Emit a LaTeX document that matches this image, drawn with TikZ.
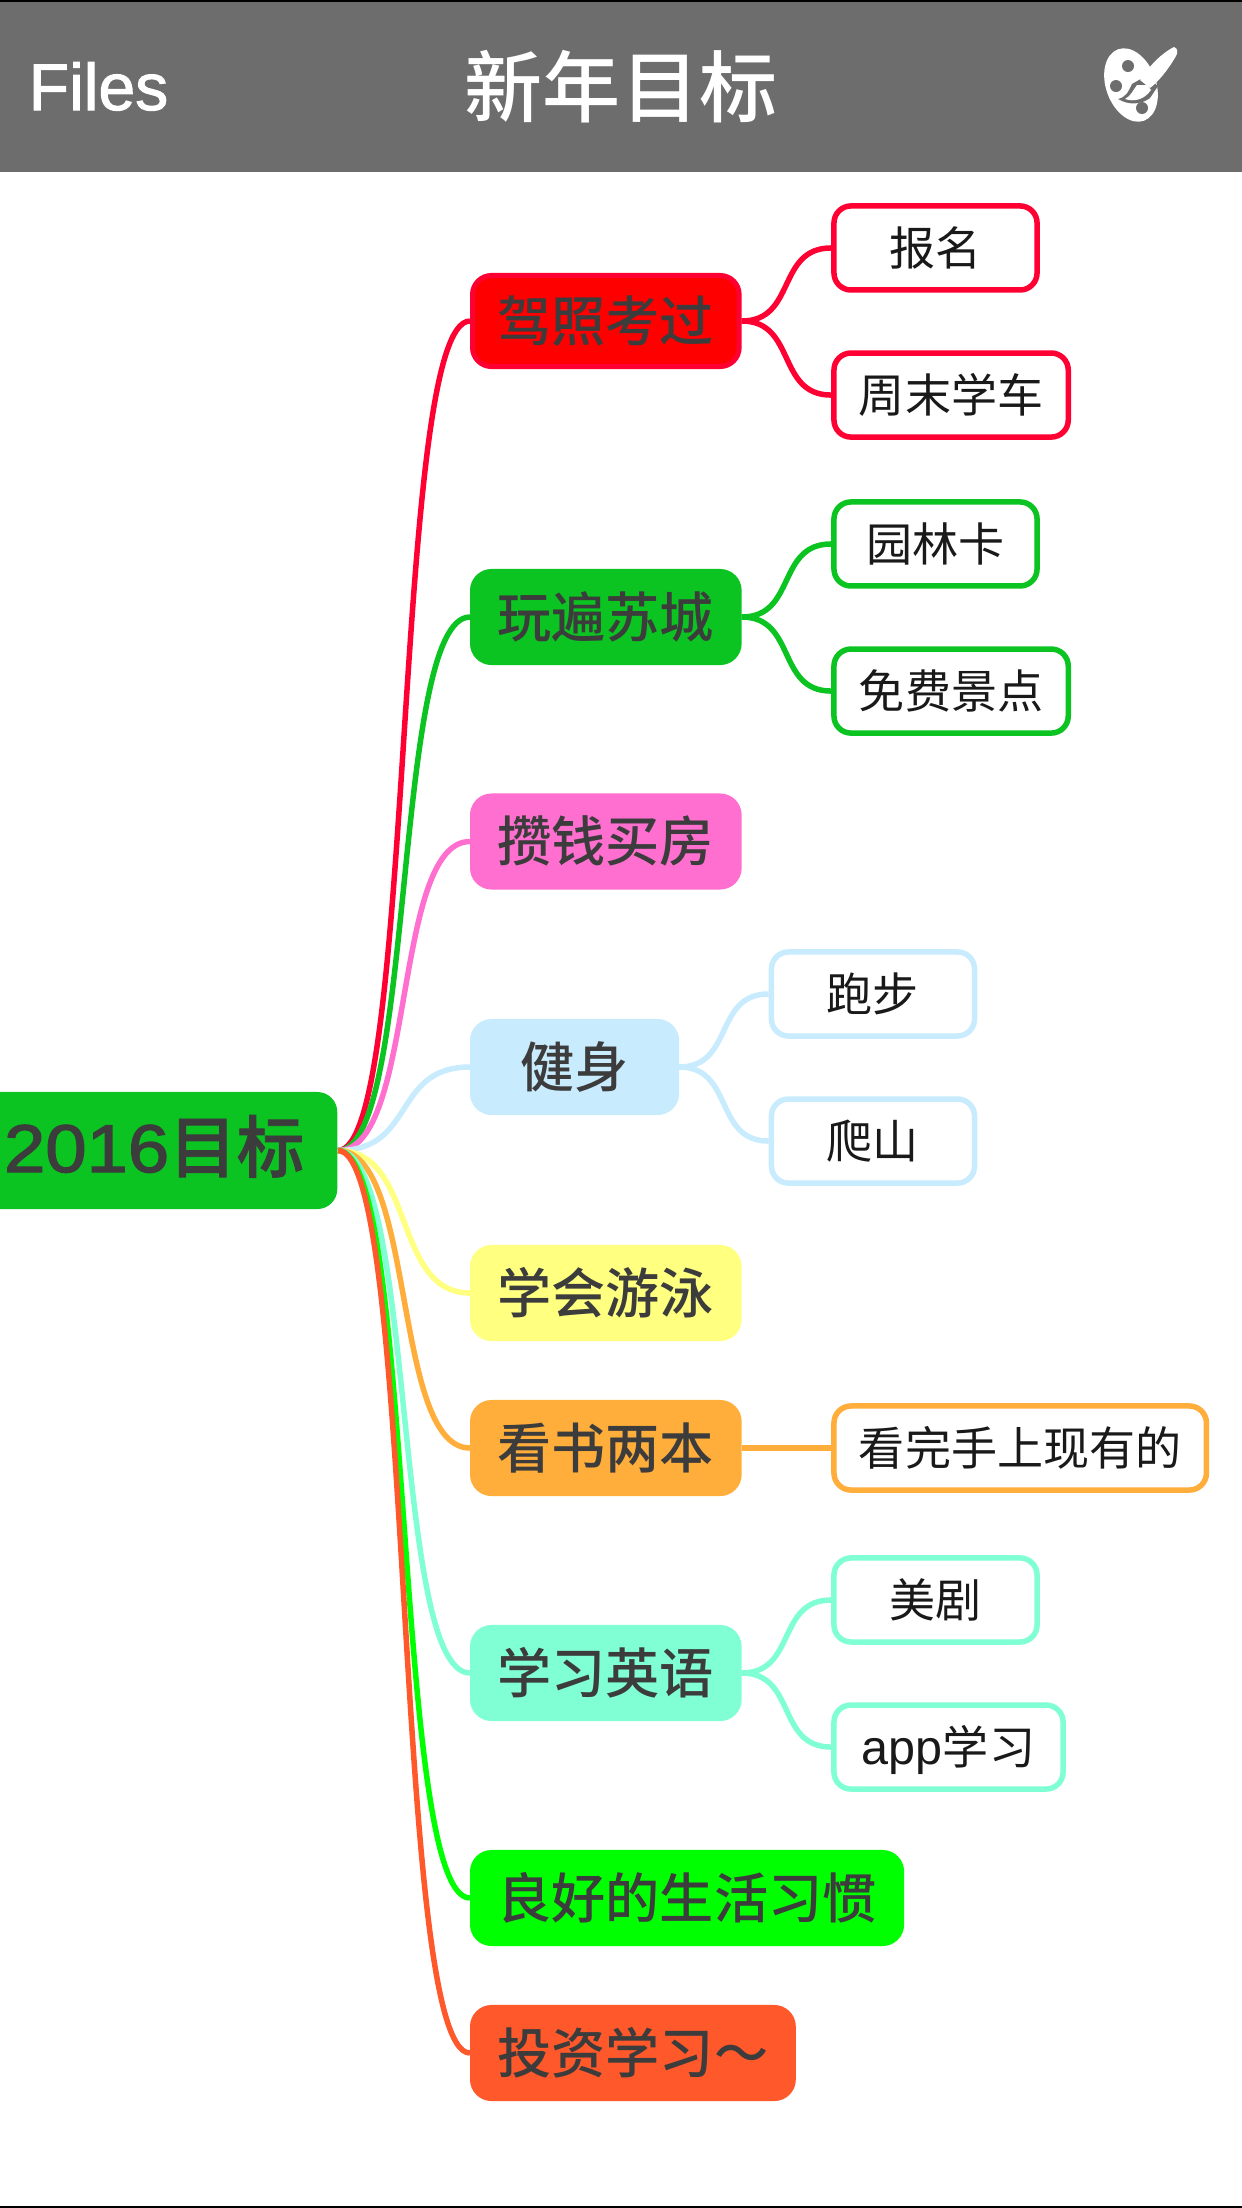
\documentclass[tikz,border=0pt]{standalone}
\usepackage{fontspec}
\usepackage{xcolor}
\usetikzlibrary{positioning}
\setmainfont{Liberation Sans}
\newfontfamily\cjk{Noto Sans CJK SC}
\newfontfamily\cjkmed{Noto Sans CJK SC Medium}
\newfontfamily\cjkroot[FakeBold=1.2]{Noto Sans CJK SC Medium}
\newfontfamily\latinmed[FakeBold=1.5]{Liberation Sans}
\newfontfamily\digitmed[FakeBold=2,FakeStretch=1.1]{Liberation Sans}
\definecolor{barcol}{HTML}{6D6D6D}
\definecolor{inkcol}{HTML}{3C3C3C}
\definecolor{drivecol}{HTML}{FF0033}
\definecolor{tourcol}{HTML}{0BC321}
\definecolor{savecol}{HTML}{FF6FCF}
\definecolor{gymcol}{HTML}{C8ECFD}
\definecolor{swimcol}{HTML}{FFFF80}
\definecolor{readcol}{HTML}{FFAE3B}
\definecolor{englishcol}{HTML}{80FFD4}
\definecolor{habitcol}{HTML}{00FF00}
\definecolor{investcol}{HTML}{FF582B}

\begin{document}
\begin{tikzpicture}[
    x=0.01cm, y=-0.01cm,
    node distance=0.895cm,
    rootnode/.style={fill=tourcol, rounded corners=0.2cm, anchor=east, minimum height=1.17cm, inner xsep=0.33cm, inner ysep=0pt, text=inkcol, text height=0.43cm, text depth=0pt, font=\fontsize{19.2}{23}\cjkroot},
    topic/.style={draw=#1, fill=#1, line width=0.05cm, rounded corners=0.19cm, anchor=west, minimum width=2.04cm, minimum height=0.91cm, inner xsep=0.25cm, inner ysep=0pt, text=inkcol, text height=0.40cm, text depth=0pt, font=\fontsize{15.4}{18}\cjkmed},
    leaf/.style={draw=#1, fill=white, line width=0.055cm, rounded corners=0.17cm, minimum width=2.03cm, minimum height=0.84cm, inner xsep=0.25cm, inner ysep=0pt, text=black!90, text height=0.35cm, text depth=0pt, font=\fontsize{13.1}{16}\cjk},
    branch/.style={to path={.. controls +(#1,0) and +(-#1,0) .. (\tikztotarget)}},
    link/.style={line width=0.055cm, color=#1}
]
\useasboundingbox (0,0) rectangle (1242,2208);

% Title bar
\fill[barcol] (0,0) rectangle (1242,172);
\fill[black] (0,0) rectangle (1242,2);
\fill[black] (0,2206) rectangle (1242,2208);
\node[anchor=base west, inner sep=0pt, text=white, font=\fontsize{18.8}{22}\latinmed] (files) at (28,110) {Files};
\node[inner sep=0pt, text=white, font=\fontsize{22.2}{26}\cjkmed] (title) at (621,87) {新年目标};

% Palette icon
\fill[white, rotate around={20:(1131,85)}] (1131,85) ellipse[x radius=25, y radius=38];
\fill[barcol] (1128,66) circle[radius=6];
\fill[barcol] (1116,86) circle[radius=6];
\fill[barcol] (1142,108) circle[radius=6];
\fill[barcol] (1146,76) -- (1158,86) -- (1150,98) .. controls (1142,104) and (1130,106) .. (1118,99) .. controls (1127,97) and (1129,90) .. (1132,84) -- cycle;
\fill[white] (1147,85) -- (1151,90) .. controls (1144,100) and (1134,102) .. (1125,99) .. controls (1131,96) and (1133,90) .. (1137,85) -- cycle;
\fill[white] (1174,47) .. controls (1178,48) and (1178,53) .. (1176,56) .. controls (1168,70) and (1158,82) .. (1150,88) -- (1140,80) .. controls (1148,68) and (1160,54) .. (1174,47) -- cycle;

% Root
\node[rootnode] (root) at (338,1150.5) {{\fontsize{19.2}{23}\digitmed 2016}目标};

% Topics
\node[topic=drivecol, fill=red] (drive) at (470,321) {驾照考过};
\node[topic=tourcol] (tour) at (470,617) {玩遍苏城};
\node[topic=savecol] (save) at (470,841.5) {攒钱买房};
\node[topic=gymcol] (gym) at (470,1067) {健身};
\node[topic=swimcol] (swim) at (470,1293) {学会游泳};
\node[topic=readcol] (read) at (470,1448) {看书两本};
\node[topic=englishcol] (english) at (470,1673) {学习英语};
\node[topic=habitcol] (habit) at (470,1898) {良好的生活习惯};
\node[topic=investcol] (invest) at (470,2053) {投资学习～};

% Leaves
\node[leaf=drivecol, right=of drive, yshift=0.73cm] (signup) {报名};
\node[leaf=drivecol, right=of drive, yshift=-0.74cm] (weekend) {周末学车};
\node[leaf=tourcol, right=of tour, yshift=0.73cm] (parkcard) {园林卡};
\node[leaf=tourcol, right=of tour, yshift=-0.74cm] (freespots) {免费景点};
\node[leaf=gymcol, right=of gym, yshift=0.73cm] (run) {跑步};
\node[leaf=gymcol, right=of gym, yshift=-0.74cm] (hike) {爬山};
\node[leaf=readcol, right=of read] (finish) {看完手上现有的};
\node[leaf=englishcol, right=of english, yshift=0.73cm] (drama) {美剧};
\node[leaf=englishcol, right=of english, yshift=-0.74cm, minimum width=2.29cm] (appstudy) {{\fontsize{13.8}{16}\rmfamily app}学习};

% Root branches
\draw[link=drivecol] (root.east) to[branch=78] (drive.west);
\draw[link=tourcol] (root.east) to[branch=78] (tour.west);
\draw[link=savecol] (root.east) to[branch=78] (save.west);
\draw[link=gymcol] (root.east) to[branch=78] (gym.west);
\draw[link=swimcol] (root.east) to[branch=78] (swim.west);
\draw[link=readcol] (root.east) to[branch=78] (read.west);
\draw[link=englishcol] (root.east) to[branch=78] (english.west);
\draw[link=habitcol] (root.east) to[branch=78] (habit.west);
\draw[link=investcol] (root.east) to[branch=78] (invest.west);

% Leaf branches
\draw[link=drivecol] (drive.east) to[branch=55] (signup.west);
\draw[link=drivecol] (drive.east) to[branch=55] (weekend.west);
\draw[link=tourcol] (tour.east) to[branch=55] (parkcard.west);
\draw[link=tourcol] (tour.east) to[branch=55] (freespots.west);
\draw[link=gymcol] (gym.east) to[branch=55] (run.west);
\draw[link=gymcol] (gym.east) to[branch=55] (hike.west);
\draw[link=readcol] (read.east) -- (finish.west);
\draw[link=englishcol] (english.east) to[branch=55] (drama.west);
\draw[link=englishcol] (english.east) to[branch=55] (appstudy.west);

\end{tikzpicture}
\end{document}
